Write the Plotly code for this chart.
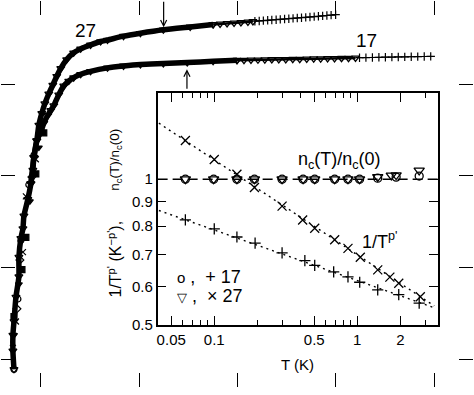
import plotly.graph_objects as go

FONT = "Liberation Sans, Arial, Helvetica, sans-serif"

# ---------------- main panel (arbitrary units; axes carry no labels) ----------------
# sample 27, dense part (merged low-T rise + upper branch)
x27_dense = [-0.273, -0.284, -0.284, -0.273, -0.253, -0.223, -0.223, -0.203, -0.182, -0.172,
             -0.132, -0.101, -0.081, -0.071, -0.041, -0.020, 0.010, 0.041, 0.081, 0.122,
             0.162, 0.203, 0.263, 0.334, 0.405, 0.506, 0.608, 0.678, 0.841, 1.013,
             1.246, 1.519, 1.752]
y27_dense = [-0.106, 0.096, 0.266, 0.415, 0.681, 0.904, 1.117, 1.319, 1.426, 1.564,
             1.745, 1.915, 2.064, 2.202, 2.383, 2.553, 2.681, 2.787, 2.894, 2.989,
             3.085, 3.170, 3.266, 3.340, 3.383, 3.426, 3.463, 3.479, 3.521, 3.553,
             3.590, 3.622, 3.649]
# sample 27, sparse triangles
x27_tri = [1.752, 1.823, 1.894, 1.965, 2.035, 2.106, 2.157]
y27_tri = [3.649, 3.654, 3.660, 3.665, 3.670, 3.676, 3.681]
# sample 27, high-T crosses
x27_plus = [2.177, 2.221, 2.263, 2.307, 2.349, 2.393, 2.435, 2.479, 2.522, 2.565,
            2.608, 2.651, 2.694, 2.737, 2.780, 2.823, 2.866, 2.909, 2.952, 2.998]
y27_plus = [3.684, 3.687, 3.690, 3.694, 3.697, 3.700, 3.704, 3.708, 3.711, 3.715,
            3.719, 3.722, 3.726, 3.730, 3.734, 3.738, 3.742, 3.746, 3.750, 3.755]

# sample 17
x17_dense = [-0.101, -0.071, -0.041, 0.000, 0.030, 0.071, 0.101, 0.132, 0.182, 0.233,
             0.284, 0.334, 0.405, 0.506, 0.678, 0.841, 1.013, 1.246, 1.489, 1.752, 1.995]
y17_dense = [1.915, 2.202, 2.383, 2.479, 2.574, 2.660, 2.713, 2.766, 2.883, 2.979,
             3.032, 3.069, 3.106, 3.138, 3.176, 3.197, 3.213, 3.223, 3.234, 3.248, 3.259]
x17_tri = [1.995, 2.066, 2.137, 2.208, 2.278, 2.349, 2.420, 2.491, 2.562, 2.633,
           2.704, 2.775, 2.846, 2.916, 2.987, 3.058, 3.129, 3.200]
y17_tri = [3.259, 3.261, 3.263, 3.264, 3.266, 3.267, 3.268, 3.269, 3.271, 3.272,
           3.273, 3.276, 3.277, 3.279, 3.280, 3.281, 3.282, 3.284]
x17_plus = [3.241, 3.306, 3.372, 3.438, 3.504, 3.570, 3.635, 3.701, 3.767, 3.833, 3.899, 3.965]
y17_plus = [3.287, 3.288, 3.289, 3.291, 3.292, 3.293, 3.295, 3.296, 3.297, 3.298, 3.300, 3.301]

# other low-T data sets on the steep rise
xo = [-0.122, -0.233, -0.203, -0.273, -0.071]
yo = [1.904, 0.660, 1.298, -0.106, 2.223]
xs = [0.030, -0.051, -0.152, -0.273, -0.192]
ys = [2.468, 2.021, 1.330, 0.468, 0.979]
xx = [-0.152, -0.051, -0.253, -0.284, -0.182]
yx = [1.777, 2.181, 0.415, 0.128, 1.170]
xt = [-0.273, -0.111, -0.223, -0.020]
yt = [0.266, 1.723, 0.819, 2.309]
xd = [-0.213, -0.091, -0.243]
yd = [1.085, 1.989, 0.553]

main_xticks = [0, 1, 2, 3, 4]
main_yticks = [0, 1, 2, 3]

# ---------------- inset ----------------
T_nc = [0.0628, 0.099, 0.144, 0.191, 0.298, 0.418, 0.504, 0.695, 0.861, 1.038, 1.39, 1.87, 2.71]
nc17 = [1.0, 1.0, 1.0, 1.0, 1.0, 1.0, 1.0, 1.0, 1.0, 1.0, 1.005, 1.01, 1.015]
T_nc27 = [0.0628, 0.099, 0.144, 0.191, 0.298, 0.418, 0.504, 0.695, 0.861, 1.038, 1.39, 1.73, 1.87, 2.71]
nc27 = [1.0, 1.0, 1.0, 1.0, 1.0, 1.0, 1.0, 1.0, 1.0, 1.0, 1.011, 1.018, 1.02, 1.043]

T_p27 = [0.0628, 0.100, 0.144, 0.191, 0.298, 0.415, 0.504, 0.695, 0.861, 1.05, 1.39, 1.69, 1.95, 2.76]
p27 = [1.202, 1.098, 1.024, 0.961, 0.880, 0.824, 0.792, 0.750, 0.720, 0.690, 0.650, 0.628, 0.610, 0.572]
T_p17 = [0.0628, 0.100, 0.144, 0.193, 0.298, 0.430, 0.504, 0.684, 0.861, 1.04, 1.39, 1.95, 2.71]
p17 = [0.824, 0.790, 0.760, 0.738, 0.705, 0.679, 0.664, 0.644, 0.629, 0.613, 0.591, 0.578, 0.555]

fit_T = [0.041, 3.45]
fit27 = [1.305, 0.548]
fit17 = [0.862, 0.543]

inset_xticks = [0.05, 0.1, 0.5, 1, 2]
inset_xticktext = ["0.05", "0.1", "0.5", "1", "2"]
inset_xminor = [0.06, 0.07, 0.08, 0.09, 0.2, 0.3, 0.4, 0.6, 0.7, 0.8, 0.9, 3]
inset_yticks = [0.5, 0.6, 0.7, 0.8, 0.9, 1]
inset_yticktext = ["0.5", "0.6", "0.7", "0.8", "0.9", "1"]

fig = go.Figure()

K = "black"
# main panel traces
for xa, ya in [(x27_dense, y27_dense), (x17_dense, y17_dense)]:
    fig.add_trace(go.Scatter(x=xa, y=ya, mode="lines+markers",
                             line=dict(color=K, width=5.5, shape="spline", smoothing=0.6),
                             marker=dict(symbol="triangle-down-open", size=7, color=K, line=dict(width=1.2)),
                             xaxis="x", yaxis="y", showlegend=False))
for xa, ya in [(x27_tri, y27_tri), (x17_tri, y17_tri)]:
    fig.add_trace(go.Scatter(x=xa, y=ya, mode="lines+markers",
                             line=dict(color=K, width=2.5),
                             marker=dict(symbol="triangle-down-open", size=7, color=K, line=dict(width=1.3)),
                             xaxis="x", yaxis="y", showlegend=False))
for xa, ya in [(x27_plus, y27_plus), (x17_plus, y17_plus)]:
    fig.add_trace(go.Scatter(x=xa, y=ya, mode="lines+markers",
                             line=dict(color=K, width=1),
                             marker=dict(symbol="cross-thin-open", size=6, color=K, line=dict(width=1.2, color=K)),
                             xaxis="x", yaxis="y", showlegend=False))
for xa, ya, sym in [(xo, yo, "circle-open"), (xs, ys, "square"), (xx, yx, "x-thin-open"),
                    (xt, yt, "triangle-down"), (xd, yd, "diamond-open")]:
    fig.add_trace(go.Scatter(x=xa, y=ya, mode="markers",
                             marker=dict(symbol=sym, size=6, color=K, line=dict(width=1.2, color=K)),
                             xaxis="x", yaxis="y", showlegend=False))

# inset traces
fig.add_trace(go.Scatter(x=fit_T, y=fit27, mode="lines", line=dict(color=K, width=1.4, dash="2px,4px"),
                         xaxis="x2", yaxis="y2", showlegend=False))
fig.add_trace(go.Scatter(x=fit_T, y=fit17, mode="lines", line=dict(color=K, width=1.4, dash="2px,4px"),
                         xaxis="x2", yaxis="y2", showlegend=False))
fig.add_trace(go.Scatter(x=T_nc27, y=nc27, mode="markers",
                         marker=dict(symbol="triangle-down-open", size=9, color=K, line=dict(width=1.3)),
                         xaxis="x2", yaxis="y2", showlegend=False))
fig.add_trace(go.Scatter(x=T_nc, y=nc17, mode="markers",
                         marker=dict(symbol="circle-open", size=8, color=K, line=dict(width=1.3)),
                         xaxis="x2", yaxis="y2", showlegend=False))
fig.add_trace(go.Scatter(x=T_p27, y=p27, mode="markers",
                         marker=dict(symbol="x-thin-open", size=9, color=K, line=dict(width=1.3, color=K)),
                         xaxis="x2", yaxis="y2", showlegend=False))
fig.add_trace(go.Scatter(x=T_p17, y=p17, mode="markers",
                         marker=dict(symbol="cross-thin-open", size=8, color=K, line=dict(width=1.3, color=K)),
                         xaxis="x2", yaxis="y2", showlegend=False))

fig.add_shape(type="line", xref="x2 domain", yref="y2", x0=0, x1=1, y0=1, y1=1,
              line=dict(color=K, width=1.4, dash="10px,5px"))

W, H = 474, 395
CLEAR = "rgba(0,0,0,0)"
fig.update_layout(
    width=W, height=H, margin=dict(l=0, r=0, t=0, b=0),
    paper_bgcolor="white", plot_bgcolor="white",
    font=dict(family=FONT, size=15, color=K),
    xaxis=dict(domain=[0, 1], anchor="y", range=[-0.405, 4.395], tickvals=main_xticks,
               ticks="inside", ticklen=14, tickwidth=1.3, tickcolor=K, mirror="ticks",
               showticklabels=False, showline=True, linecolor=CLEAR, showgrid=False, zeroline=False),
    yaxis=dict(domain=[0, 1], anchor="x", range=[-0.298, 3.904], tickvals=main_yticks,
               ticks="inside", ticklen=14, tickwidth=1.3, tickcolor=K, mirror="ticks",
               showticklabels=False, showline=True, linecolor=CLEAR, showgrid=False, zeroline=False),
    xaxis2=dict(domain=[157.3 / W, 438.7 / W], anchor="y2", type="log", range=[-1.396, 0.5635],
                tickvals=inset_xticks, ticktext=inset_xticktext,
                ticks="inside", ticklen=9, tickwidth=1.2, tickcolor=K,
                minor=dict(ticks="inside", ticklen=5, tickwidth=1.1, tickcolor=K, tickvals=inset_xminor),
                showline=True, linecolor=K, linewidth=1.6, mirror="allticks",
                showgrid=False, zeroline=False, tickfont=dict(size=15)),
    yaxis2=dict(domain=[1 - 331.7 / H, 1 - 94 / H], anchor="x2", type="log", range=[-0.30103, 0.1781],
                tickvals=inset_yticks, ticktext=inset_yticktext,
                ticks="inside", ticklen=9, tickwidth=1.2, tickcolor=K,
                showline=True, linecolor=K, linewidth=1.6, mirror="allticks",
                showgrid=False, zeroline=False, tickfont=dict(size=15)),
)

ann = [
    dict(text="27", x=0.456, y=3.585, xref="x", yref="y", showarrow=False, font=dict(size=19)),
    dict(text="17", x=3.311, y=3.479, xref="x", yref="y", showarrow=False, font=dict(size=19)),
    dict(text="", x=1.249, y=3.617, xref="x", yref="y", showarrow=True, ax=0, ay=-27,
         arrowhead=5, arrowsize=1.0, arrowwidth=1.2, arrowcolor=K),
    dict(text="", x=1.486, y=3.160, xref="x", yref="y", showarrow=True, ax=0, ay=21,
         arrowhead=5, arrowsize=1.0, arrowwidth=1.2, arrowcolor=K),
    dict(text="n<sub>c</sub>(T)/n<sub>c</sub>(0)", x=340 / W, y=1 - 163 / H, xref="paper", yref="paper",
         showarrow=False, font=dict(size=18), xanchor="center", yanchor="middle"),
    dict(text="1/T<sup>p'</sup>", x=361 / W, y=1 - 245 / H, xref="paper", yref="paper",
         showarrow=False, font=dict(size=18), xanchor="left", yanchor="middle"),
    dict(text='<span style="font-size:15px">o</span> ,  + 17', x=175 / W, y=1 - 282 / H,
         xref="paper", yref="paper", showarrow=False, font=dict(size=18), xanchor="left", yanchor="middle"),
    dict(text='<span style="font-size:13px">▽</span> ,  × 27', x=175 / W, y=1 - 302 / H,
         xref="paper", yref="paper", showarrow=False, font=dict(size=18), xanchor="left", yanchor="middle"),
    # inset y-axis title, drawn in two rotated pieces so each part sits where it does in the original
    dict(text="1/T<sup>p'</sup> (K<sup>−p'</sup>),",
         x=114 / W, y=1 - 264 / H, xref="paper", yref="paper", showarrow=False, textangle=-90,
         font=dict(size=16), xanchor="center", yanchor="middle"),
    dict(text="n<sub>c</sub>(T)/n<sub>c</sub>(0)",
         x=115 / W, y=1 - 163 / H, xref="paper", yref="paper", showarrow=False, textangle=-90,
         font=dict(size=13.5), xanchor="center", yanchor="middle"),
    dict(text="T (K)", x=298 / W, y=1 - 372 / H, xref="paper", yref="paper", showarrow=False,
         font=dict(size=15), xanchor="center", yanchor="middle"),
]
fig.update_layout(annotations=ann)

page_fix = (
    "var s='margin:0;padding:0;overflow:hidden;width:474px;height:395px;';"
    "document.documentElement.style.cssText=s;document.body.style.cssText=s;"
)
fig.write_html("out.html", config={"displayModeBar": False}, post_script=page_fix)
